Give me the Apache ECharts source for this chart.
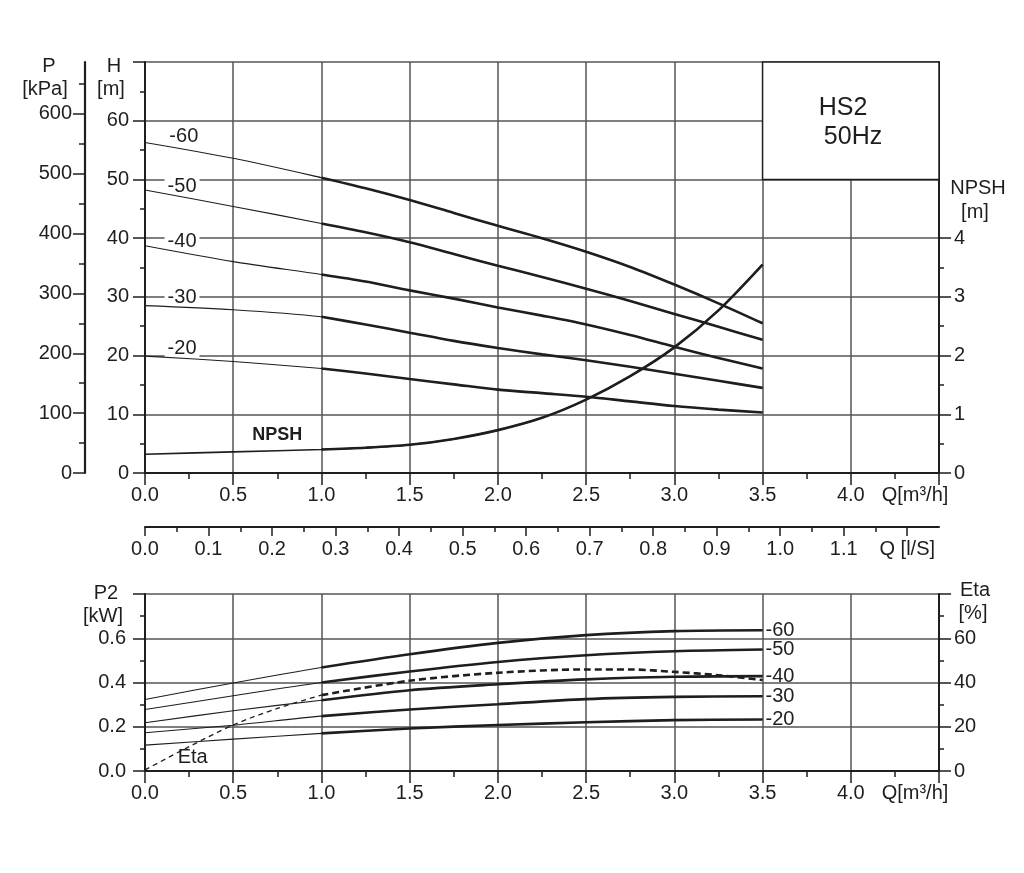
<!DOCTYPE html>
<html>
<head>
<meta charset="utf-8">
<title>HS2 50Hz</title>
<script src="https://cdn.jsdelivr.net/npm/echarts@6/dist/echarts.min.js"></script>
<style>
    html, body { margin: 0; padding: 0; background: #fff; }
    #main { width: 1024px; height: 873px; }
</style>
</head>
<body>
<div id="main"></div>
<script>
// 流量点 Q [m3/h]
var qHead = [0, 0.5, 1.0, 1.25, 1.5, 1.75, 2.0, 2.25, 2.5, 2.75, 3.0, 3.25, 3.5];

// 扬程 H [m]
var h60 = [56.3, 53.6, 50.3, 48.5, 46.5, 44.3, 42.1, 40.0, 37.7, 35.1, 32.1, 28.9, 25.5];
var h50 = [48.2, 45.4, 42.5, 41.0, 39.3, 37.3, 35.3, 33.4, 31.4, 29.3, 27.1, 24.9, 22.7];
var h40 = [38.7, 36.0, 33.8, 32.6, 31.1, 29.7, 28.2, 26.8, 25.3, 23.5, 21.5, 19.6, 17.8];
var h30 = [28.5, 27.8, 26.6, 25.3, 23.9, 22.5, 21.3, 20.2, 19.2, 18.1, 16.9, 15.7, 14.5];
var h20 = [19.9, 19.0, 17.8, 16.95, 16.0, 15.1, 14.2, 13.6, 13.0, 12.2, 11.4, 10.8, 10.3];

// NPSH [m]
var qNpsh = [0, 0.5, 1.0, 1.25, 1.5, 1.75, 2.0, 2.25, 2.5, 2.75, 3.0, 3.25, 3.5];
var npsh = [0.32, 0.36, 0.40, 0.43, 0.48, 0.58, 0.73, 0.94, 1.25, 1.65, 2.14, 2.77, 3.55];

// 功率 P2 [kW]
var qPower = [0, 0.5, 1.0, 1.5, 2.0, 2.5, 3.0, 3.5];
var p60 = [0.323, 0.398, 0.468, 0.528, 0.579, 0.614, 0.632, 0.636];
var p50 = [0.278, 0.340, 0.400, 0.450, 0.493, 0.523, 0.541, 0.549];
var p40 = [0.218, 0.272, 0.320, 0.365, 0.392, 0.414, 0.426, 0.429];
var p30 = [0.173, 0.207, 0.248, 0.278, 0.302, 0.325, 0.335, 0.338];
var p20 = [0.117, 0.144, 0.170, 0.192, 0.208, 0.220, 0.230, 0.233];

// 效率 Eta [%]
var qEta = [0, 0.25, 0.5, 0.75, 1.0, 1.5, 2.0, 2.5, 2.75, 3.0, 3.25, 3.5];
var eta = [0.5, 11.0, 20.8, 28.3, 34.3, 40.8, 44.4, 45.9, 45.9, 44.8, 43.3, 41.1];

// 型号
var stageNames = ['-60', '-50', '-40', '-30', '-20'];

// 刻度
var pTicks = [0, 100, 200, 300, 400, 500, 600];
var pMinor = [50, 150, 250, 350, 450, 550, 650];
var npshTicks = [0, 1, 2, 3, 4];
var npshMinor = [0.5, 1.5, 2.5, 3.5];
var lsTicks = [0, 0.1, 0.2, 0.3, 0.4, 0.5, 0.6, 0.7, 0.8, 0.9, 1.0, 1.1, 1.2];
var lsMinor = [0.05, 0.15, 0.25, 0.35, 0.45, 0.55, 0.65, 0.75, 0.85, 0.95, 1.05, 1.15];

var ink = '#1e1e1e';
var gridInk = '#555';
var font = 'Liberation Sans';
var fs = 20;

function seg(q, v, a, b) {
    var out = [];
    for (var i = 0; i < q.length; i++) {
        if (q[i] >= a && q[i] <= b) out.push([q[i], v[i]]);
    }
    return out;
}

function qLabel(v) {
    if (v === 4.5) return '{q|Q[m³/h]}';
    return v.toFixed(1);
}

function qAxis(gridIndex) {
    return {
        type: 'value', gridIndex: gridIndex, min: 0, max: 4.5, interval: 0.5,
        axisLine: {onZero: false, lineStyle: {color: ink, width: 2}},
        axisTick: {length: 12, lineStyle: {color: ink, width: 1.5}},
        minorTick: {show: true, splitNumber: 2, length: 6, lineStyle: {color: ink, width: 1.5}},
        axisLabel: {
            color: ink, fontFamily: font, fontSize: fs, margin: 12, formatter: qLabel,
            rich: {q: {color: ink, fontFamily: font, fontSize: fs, padding: [0, 48, 0, 0]}}
        },
        splitLine: {show: true, lineStyle: {color: gridInk, width: 1.5}}
    };
}

// 细线画全程, 粗线画 1.0 以后的工作区
function curvePair(q, v, xi, yi, dash, thinW, endText) {
    var thin = {
        type: 'line', xAxisIndex: xi, yAxisIndex: yi,
        data: dash ? seg(q, v, 0, 1.0) : seg(q, v, 0, 3.5),
        smooth: 0.3, symbol: 'none', z: 5,
        lineStyle: {color: ink, width: thinW, type: dash ? [5, 4] : 'solid'}
    };
    var thick = {
        type: 'line', xAxisIndex: xi, yAxisIndex: yi, data: seg(q, v, 1.0, 3.5),
        smooth: 0.3, symbol: 'none', z: 6,
        lineStyle: {color: ink, width: 2.6, type: dash ? [7, 4] : 'solid'}
    };
    if (endText) {
        thick.endLabel = {show: true, formatter: endText, distance: 3, color: ink, fontFamily: font, fontSize: fs};
    }
    return [thin, thick];
}

var series = [];

[h60, h50, h40, h30, h20].forEach(function (h) {
    series = series.concat(curvePair(qHead, h, 0, 0, false, 1.1));
});

// HS2 50Hz 框
series[0].markArea = {
    silent: true,
    itemStyle: {color: '#fff', borderColor: ink, borderWidth: 1.5},
    data: [[{coord: [3.5, 50]}, {coord: [4.5, 70]}]]
};

function tagSeries(xi, yi, pts, bold, bg) {
    return {
        type: 'scatter', xAxisIndex: xi, yAxisIndex: yi, symbolSize: 0, z: 3, silent: true,
        itemStyle: {opacity: 1},
        data: pts,
        label: {
            show: true, position: 'inside', color: ink, opacity: 1, fontFamily: font,
            fontSize: bold ? 18 : fs, fontWeight: bold ? 'bold' : 'normal',
            backgroundColor: bg ? '#fff' : 'transparent', padding: [0, 3],
            formatter: function (p) { return p.value[2]; }
        }
    };
}

// 型号标注
series.push(tagSeries(0, 0, [[0.22, 57.3, stageNames[0]], [0.21, 48.8, stageNames[1]],
    [0.21, 39.5, stageNames[2]], [0.21, 29.9, stageNames[3]], [0.21, 21.2, stageNames[4]]], false, true));

// NPSH
series = series.concat(curvePair(qNpsh, npsh, 0, 3, false, 1.6));
series.push(tagSeries(0, 3, [[0.75, 0.64, 'NPSH']], true, false));

// 功率曲线
[p60, p50, p40, p30, p20].forEach(function (p, i) {
    series = series.concat(curvePair(qPower, p, 3, 6, false, 1.1, stageNames[i]));
});

// 效率
series = series.concat(curvePair(qEta, eta, 3, 7, true, 1.3));
series.push(tagSeries(3, 7, [[0.27, 6.2, 'Eta']], false, false));

function title(text, x, y, size) {
    return {
        type: 'text', x: x, y: y, z: 100, silent: true,
        style: {text: text, fill: ink, font: (size || fs) + 'px ' + font, align: 'center', verticalAlign: 'middle'}
    };
}

var myChart = echarts.init(document.getElementById('main'));
var option = {
    backgroundColor: '#fff',
    animation: false,
    grid: [
        {left: 145, top: 62, width: 794, height: 411},
        {left: 145, top: 500, width: 794, height: 27},
        {left: 145, top: 594, width: 794, height: 177}
    ],
    xAxis: [
        qAxis(0),
        {
            type: 'value', gridIndex: 1, min: 0, max: 1.25, position: 'bottom',
            axisLine: {onZero: false, lineStyle: {color: ink, width: 2}},
            axisTick: {customValues: lsTicks, length: 9, lineStyle: {color: ink, width: 1.5}},
            axisLabel: {
                customValues: lsTicks, color: ink, fontFamily: font, fontSize: fs, margin: 12,
                formatter: function (v) { return Math.abs(v - 1.2) < 1e-6 ? 'Q [l/S]' : v.toFixed(1); }
            },
            splitLine: {show: false}
        },
        {
            type: 'value', gridIndex: 1, min: 0, max: 1.25, position: 'bottom',
            axisLine: {show: false},
            axisTick: {customValues: lsMinor, length: 5, lineStyle: {color: ink, width: 1.5}},
            axisLabel: {show: false},
            splitLine: {show: false}
        },
        qAxis(2)
    ],
    yAxis: [
        {
            type: 'value', gridIndex: 0, min: 0, max: 70, interval: 10, position: 'left',
            axisLine: {show: true, lineStyle: {color: ink, width: 2}},
            axisTick: {show: true, length: 12, lineStyle: {color: ink, width: 1.5}},
            minorTick: {show: true, splitNumber: 2, length: 5, lineStyle: {color: ink, width: 1.5}},
            axisLabel: {color: ink, fontFamily: font, fontSize: fs, margin: 16,
                formatter: function (v) { return v === 70 ? '' : v; }},
            splitLine: {show: true, lineStyle: {color: gridInk, width: 1.5}}
        },
        {
            type: 'value', gridIndex: 0, min: 0, max: 686.7, position: 'left', offset: 60,
            axisLine: {show: true, lineStyle: {color: ink, width: 2.2}},
            axisTick: {show: true, customValues: pTicks, length: 12, lineStyle: {color: ink, width: 1.5}},
            axisLabel: {customValues: pTicks, color: ink, fontFamily: font, fontSize: fs, margin: 13},
            splitLine: {show: false}
        },
        {
            type: 'value', gridIndex: 0, min: 0, max: 686.7, position: 'left', offset: 60,
            axisLine: {show: false},
            axisTick: {show: true, customValues: pMinor, length: 6, lineStyle: {color: ink, width: 1.5}},
            axisLabel: {show: false},
            splitLine: {show: false}
        },
        {
            type: 'value', gridIndex: 0, min: 0, max: 7, position: 'right',
            axisLine: {show: true, lineStyle: {color: ink, width: 2}},
            axisTick: {show: true, customValues: npshTicks, length: 12, lineStyle: {color: ink, width: 1.5}},
            axisLabel: {customValues: npshTicks, color: ink, fontFamily: font, fontSize: fs, margin: 15},
            splitLine: {show: false}
        },
        {
            type: 'value', gridIndex: 0, min: 0, max: 7, position: 'right',
            axisLine: {show: false},
            axisTick: {show: true, customValues: npshMinor, length: 5, lineStyle: {color: ink, width: 1.5}},
            axisLabel: {show: false},
            splitLine: {show: false}
        },
        {type: 'value', gridIndex: 1, show: false},
        {
            type: 'value', gridIndex: 2, min: 0, max: 0.8, interval: 0.2, position: 'left',
            axisLine: {show: true, lineStyle: {color: ink, width: 2}},
            axisTick: {show: true, length: 12, lineStyle: {color: ink, width: 1.5}},
            minorTick: {show: true, splitNumber: 2, length: 5, lineStyle: {color: ink, width: 1.5}},
            axisLabel: {color: ink, fontFamily: font, fontSize: fs, margin: 19,
                formatter: function (v) { return Math.abs(v - 0.8) < 1e-6 ? '' : v.toFixed(1); }},
            splitLine: {show: true, lineStyle: {color: gridInk, width: 1.5}}
        },
        {
            type: 'value', gridIndex: 2, min: 0, max: 80, interval: 20, position: 'right',
            axisLine: {show: true, lineStyle: {color: ink, width: 2}},
            axisTick: {show: true, length: 12, lineStyle: {color: ink, width: 1.5}},
            minorTick: {show: true, splitNumber: 2, length: 5, lineStyle: {color: ink, width: 1.5}},
            axisLabel: {color: ink, fontFamily: font, fontSize: fs, margin: 15,
                formatter: function (v) { return v === 80 ? '' : v; }},
            splitLine: {show: false}
        }
    ],
    graphic: [
        title('P', 49, 66), title('[kPa]', 45, 89),
        title('H', 114, 66), title('[m]', 111, 89),
        title('NPSH', 978, 188), title('[m]', 975, 212),
        title('HS2', 843, 108, 25), title('50Hz', 853, 137, 25),
        title('P2', 106, 593), title('[kW]', 103, 616),
        title('Eta', 975, 590), title('[%]', 973, 613)
    ],
    series: series
};
myChart.setOption(option);
</script>
</body>
</html>
